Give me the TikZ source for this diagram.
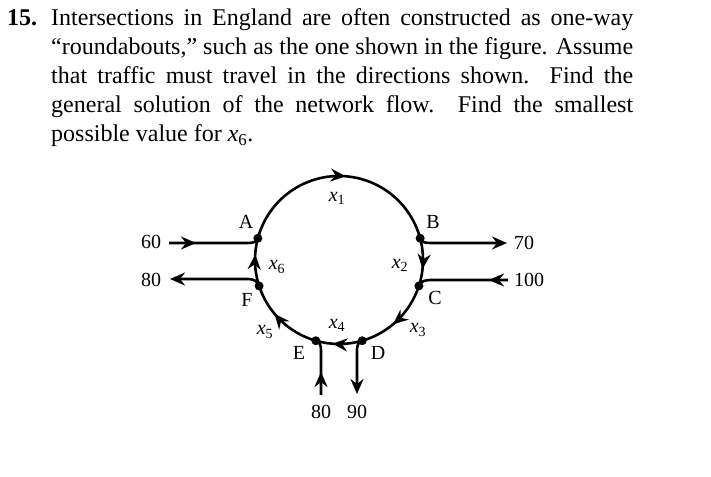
\documentclass[tikz,border=0pt]{standalone}
\usepackage{fontspec}
\setmainfont{Liberation Serif}
\usetikzlibrary{arrows.meta,decorations.markings}
\tikzset{
  road/.style={line width=2.6pt},
  tipend/.style={-{Stealth[length=15pt,width=13pt,inset=5pt]}},
  dot/.style={circle, fill=black, inner sep=0pt, minimum size=9pt},
  lbl/.style={font=\fontsize{20}{22}\selectfont, inner sep=0pt},
  midarrow/.style={postaction={decorate, decoration={markings,
      mark=at position #1 with {\arrow{Stealth[length=15pt,width=13pt,inset=5pt]}}}}},
}
\newcommand\xv[1]{\textit{x}\textsubscript{#1}}
\begin{document}
\begin{tikzpicture}[x=1pt,y=1pt]
\useasboundingbox (0,0) rectangle (711,476);
% question text
\node[anchor=base west, inner sep=0pt, font=\fontsize{24}{29}\selectfont\bfseries] (num) at (7,450) {15.};
\node[anchor=base west, inner sep=0pt] (q) at (51,450) {\parbox[t]{582pt}{\fontsize{24}{29}\selectfont
\makebox[582pt][s]{Intersections in England are often constructed as one-way}\\
\makebox[582pt][s]{“roundabouts,” such as the one shown in the figure. Assume}\\
\makebox[582pt][s]{that traffic must travel in the directions shown.\ \ Find the}\\
\makebox[582pt][s]{general solution of the network flow.\ \ Find the smallest}\\
possible value for \xv{6}.}};
% roundabout
\coordinate (O) at (339,216);
\coordinate (A) at ([shift={(165:84)}]O);
\coordinate (B) at ([shift={(15:84)}]O);
\coordinate (C) at ([shift={(-18:84)}]O);
\coordinate (D) at ([shift={(-74:84)}]O);
\coordinate (E) at ([shift={(-106:84)}]O);
\coordinate (F) at ([shift={(-162:84)}]O);
\draw[road, midarrow=0.53] (A) arc[start angle=165, end angle=15, radius=84pt];
\draw[road, midarrow=0.64] (B) arc[start angle=15, end angle=-18, radius=84pt];
\draw[road, midarrow=0.57] (C) arc[start angle=-18, end angle=-74, radius=84pt];
\draw[road, midarrow=0.64] (D) arc[start angle=-74, end angle=-106, radius=84pt];
\draw[road, midarrow=0.61] (E) arc[start angle=-106, end angle=-162, radius=84pt];
\draw[road, midarrow=0.66] (F) arc[start angle=198, end angle=165, radius=84pt];
% roads
\coordinate (w1) at (169,233);
\coordinate (w2) at (170,197);
\coordinate (e1) at (507,233);
\coordinate (e2) at (508,196);
\coordinate (s1) at (321,81);
\coordinate (s2) at (357,82);
\draw[road, midarrow=27pt] (w1) -- (247,233) to[out=0,in=255] (A);
\draw[road, tipend] (F) to[out=105,in=0] (248,197) -- (w2);
\draw[road, tipend] (B) to[out=-75,in=180] (431,233) -- (e1);
\draw[road, midarrow=19pt] (e2) -- (431,196) to[out=180,in=72] (C);
\draw[road, midarrow=23pt] (s1) -- (321,126) to[out=90,in=-16] (E);
\draw[road, tipend] (D) to[out=196,in=90] (357,126) -- (s2);
% junction dots
\foreach \p in {A,B,C,D,E,F} \node[dot] (dot\p) at (\p) {};
% labels
\node[lbl] (l60) at (151,234) {60};
\node[lbl] (l80a) at (151,196) {80};
\node[lbl] (l70) at (524,233) {70};
\node[lbl] (l100) at (529,196) {100};
\node[lbl] (l80b) at (321,64) {80};
\node[lbl] (l90) at (357,64) {90};
\node[lbl] (nA) at (246,254) {A};
\node[lbl] (nB) at (433,254) {B};
\node[lbl] (nC) at (435,178) {C};
\node[lbl] (nF) at (247,176) {F};
\node[lbl] (nE) at (299,123) {E};
\node[lbl] (nD) at (378,123) {D};
\node[lbl] (x1) at (337,278) {\xv{1}};
\node[lbl] (x2) at (400,211) {\xv{2}};
\node[lbl] (x3) at (418,146) {\xv{3}};
\node[lbl] (x4) at (337,151) {\xv{4}};
\node[lbl] (x5) at (265,144) {\xv{5}};
\node[lbl] (x6) at (277,209) {\xv{6}};
\end{tikzpicture}
\end{document}
